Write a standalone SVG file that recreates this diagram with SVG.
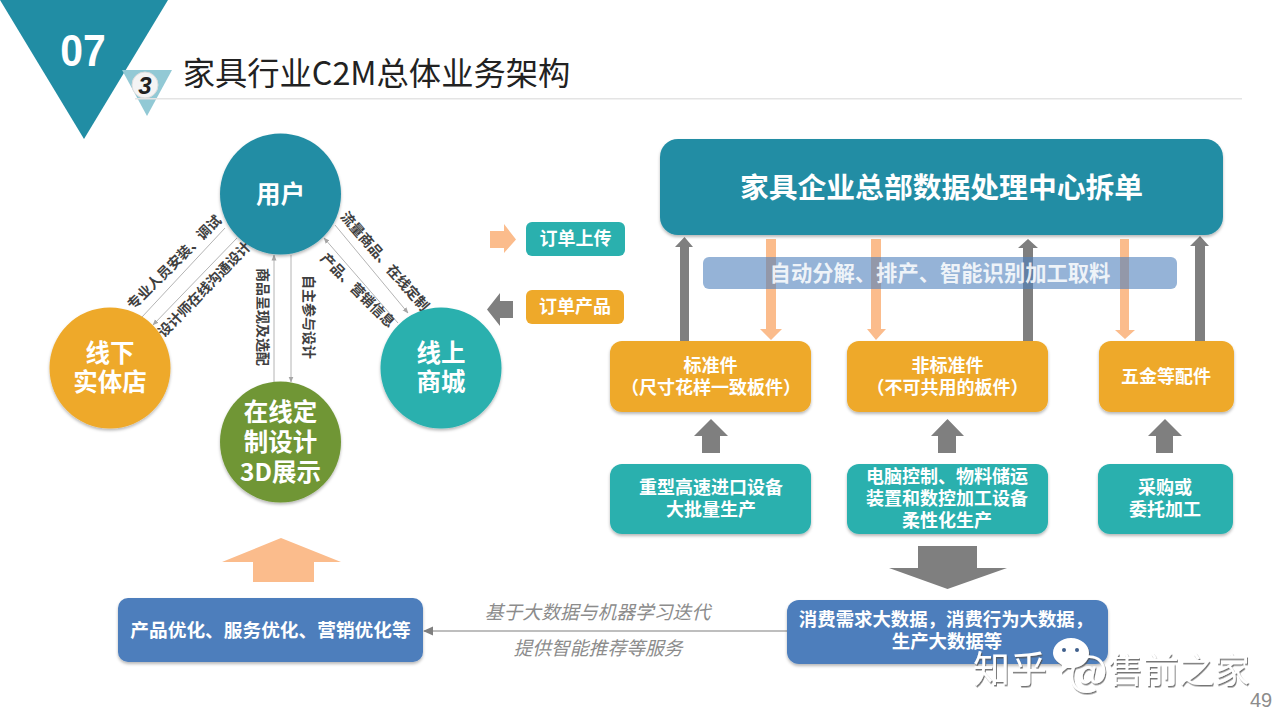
<svg xmlns="http://www.w3.org/2000/svg" width="1280" height="720" viewBox="0 0 1280 720">
<style>
text{font-family:"Noto Sans CJK SC","Liberation Sans",sans-serif;text-anchor:middle;dominant-baseline:central}
.w{fill:#fff;font-weight:700}
.s18{font-size:18px}
.c24{font-size:24.5px}
.lab{font-size:14px;font-weight:700;fill:#404040}
.it{font-size:18.800px;fill:#8c8c8c;font-style:italic}
.teal{fill:#2AB0AE}.dark{fill:#218DA4}.org{fill:#EEA92A}.blu{fill:#4D7EBC}
.gr{fill:#7F7F7F}.pe{fill:#FBBC8C}
.thin{stroke:#ABABAB;stroke-width:.9;fill:none}
.sh{filter:url(#sh)}
</style>
<defs>
<filter id="sh" x="-10%" y="-10%" width="120%" height="125%"><feDropShadow dx="0" dy="2" stdDeviation="1.8" flood-color="#000" flood-opacity=".28"/></filter>
<filter id="wm" x="-5%" y="-10%" width="110%" height="125%"><feDropShadow dx="1" dy="1.5" stdDeviation=".6" flood-color="#555" flood-opacity=".8"/></filter>
<marker id="ah" viewBox="0 0 6 6" refX="5.500" refY="3" markerWidth="6" markerHeight="6" orient="auto-start-reverse" markerUnits="userSpaceOnUse"><path d="M0 0.500L6 3L0 5.500z" fill="#A6A6A6"/></marker>
<marker id="ah2" viewBox="0 0 10 10" refX="9" refY="5" markerWidth="10" markerHeight="10" orient="auto-start-reverse" markerUnits="userSpaceOnUse"><path d="M0 0.500L10 5L0 9.500z" fill="#7F7F7F"/></marker>
</defs>
<rect width="1280" height="720" fill="#fff"/>

<g id="header">
<polygon points="0,0 168,0 84,139" class="dark"/>
<polygon points="122,70 172,70 147,116" fill="#92C9D5"/>
<circle cx="145" cy="85" r="13" fill="#f4f4f4" stroke="#ddd"/>
<text x="145" y="85" style="font-family:'Liberation Sans',sans-serif;font-size:24px;font-weight:700;font-style:italic" fill="#222">3</text>
<text transform="translate(83 51) scale(.93 1)" style="font-family:'Liberation Sans',sans-serif;font-size:44px;font-weight:700" fill="#fff">07</text>
<rect x="135" y="98" width="1107" height="1.5" fill="#E4E4E4"/>
<text x="376.500" y="71" style="font-size:32.300px" fill="#222">家具行业C2M总体业务架构</text>
</g>

<g id="connectors">
<path class="thin" d="M225 228L142 317"/>
<path class="thin" d="M237 238L153 325" marker-end="url(#ah)"/>
<path class="thin" d="M274 382V255" marker-end="url(#ah)"/>
<path class="thin" d="M291 255V382" marker-end="url(#ah)"/>
<path class="thin" d="M335 225L408 313" marker-end="url(#ah)"/>
<path class="thin" d="M398 323L324 238" marker-end="url(#ah)"/>
<path d="M787 631H424" stroke="#7F7F7F" stroke-width="1.2" fill="none" marker-end="url(#ah2)"/>
<polygon class="pe" points="490,231 504,231 504,224 516,239.500 504,253 504,248 490,248"/>
<polygon class="gr" points="513,301 500,301 500,293 487,309.500 500,326 500,318 513,318"/>
<polygon class="gr" points="680,341 680,247 675,247 684.500,237 693,247 689,247 689,341"/>
<polygon class="pe" points="766,239 776,239 776,329 782,329 771,340 760,329 766,329"/>
<polygon class="pe" points="871,239 881,239 881,329 886,329 876,340 867,329 871,329"/>
<polygon class="gr" points="1023,341 1023,248 1018,248 1028,239 1038,248 1033,248 1033,341"/>
<polygon class="pe" points="1120,239 1129,239 1129,330 1135,330 1125,339 1115,330 1120,330"/>
<polygon class="gr" points="1195,341 1195,246 1190,246 1200,236 1209,246 1205,246 1205,341"/>
<polygon class="gr" points="702,453 702,436 694,436 711,419 728,436 720,436 720,453"/>
<polygon class="gr" points="938,453 938,436 931,436 947.500,419 964,436 956,436 956,453"/>
<polygon class="gr" points="1156,453 1156,436 1148,436 1165,419 1182,436 1173,436 1173,453"/>
<polygon class="gr" points="918,546 977,546 977,568 1007,568 947.500,589 889,568 918,568"/>
<polygon class="pe" points="253,582 253,562 222,562 281,538 341,562 314,562 314,582"/>
</g>

<g id="edge-labels">
<text class="lab" dy="-2" transform="translate(175 263) rotate(-45)">专业人员安装、调试</text>
<text class="lab" dy="-2" transform="translate(205 290) rotate(-46)">设计师在线沟通设计</text>
<text class="lab" dy="-2" transform="translate(262 317) rotate(90)">商品呈现及选配</text>
<text class="lab" dy="-2" transform="translate(308 317) rotate(90)">自主参与设计</text>
<text class="lab" dy="-2" transform="translate(384 262) rotate(49)">流量商品、在线定制</text>
<text class="lab" dy="-2" transform="translate(357 291) rotate(45)">产品、营销信息</text>
<text class="it" x="597.500" y="610">基于大数据与机器学习迭代</text>
<text class="it" x="598" y="646">提供智能推荐等服务</text>
</g>

<g id="node-user"><circle class="dark sh" cx="280.500" cy="194" r="60.500"/><text class="w c24" x="280.500" y="192">用户</text></g>
<g id="node-offline"><circle class="org sh" cx="110" cy="368" r="60.500"/><text class="w c24" x="110" y="351">线下</text><text class="w c24" x="110" y="380">实体店</text></g>
<g id="node-design"><circle class="sh" fill="#6F9635" cx="280.500" cy="442" r="60.500"/><text class="w c24" x="280.500" y="410">在线定</text><text class="w c24" x="280.500" y="440">制设计</text><text class="w c24" x="280.500" y="470">3D展示</text></g>
<g id="node-online"><circle class="teal sh" cx="441" cy="368" r="60.500"/><text class="w c24" x="441" y="351">线上</text><text class="w c24" x="441" y="380">商城</text></g>

<g id="node-upload"><rect class="teal" x="526" y="222" width="99" height="34" rx="6"/><text class="w s18" x="575.500" y="237">订单上传</text></g>
<g id="node-product"><rect class="org" x="526" y="290" width="98" height="34" rx="6"/><text class="w s18" x="575" y="305">订单产品</text></g>

<g id="node-center"><rect class="dark sh" x="660" y="139" width="563" height="96" rx="18"/><text class="w" style="font-size:28.800px" x="941.500" y="185">家具企业总部数据处理中心拆单</text></g>
<g id="node-band"><rect x="703" y="257" width="474" height="32" rx="6" fill="#4F81BD" fill-opacity=".6"/><text class="w" style="font-size:21.300px" fill-opacity=".85" x="940" y="271">自动分解、排产、智能识别加工取料</text></g>

<g id="node-std"><rect class="org sh" x="610" y="341" width="201" height="71" rx="12"/><text class="w s18" x="710.500" y="364">标准件</text><text class="w s18" x="711" y="386">（尺寸花样一致板件）</text></g>
<g id="node-nonstd"><rect class="org sh" x="847" y="341" width="201" height="71" rx="12"/><text class="w s18" x="947.500" y="364">非标准件</text><text class="w s18" x="947.500" y="386">（不可共用的板件）</text></g>
<g id="node-hardware"><rect class="org sh" x="1099" y="341" width="135" height="71" rx="12"/><text class="w s18" x="1166" y="375">五金等配件</text></g>

<g id="node-heavy"><rect class="teal sh" x="610" y="464" width="201" height="70" rx="12"/><text class="w s18" x="711" y="486">重型高速进口设备</text><text class="w s18" x="711" y="508">大批量生产</text></g>
<g id="node-flex"><rect class="teal sh" x="847" y="464" width="201" height="70" rx="12"/><text class="w s18" x="947" y="475">电脑控制、物料储运</text><text class="w s18" x="947" y="497">装置和数控加工设备</text><text class="w s18" x="947" y="519">柔性化生产</text></g>
<g id="node-purchase"><rect class="teal sh" x="1098" y="464" width="135" height="70" rx="12"/><text class="w s18" x="1165" y="486">采购或</text><text class="w s18" x="1165" y="508">委托加工</text></g>

<g id="node-bigdata"><rect class="blu sh" x="787" y="600" width="321" height="64" rx="12"/><text class="w" style="font-size:18.400px" x="946" y="618">消费需求大数据，消费行为大数据，</text><text class="w" style="font-size:18.400px" x="947" y="640">生产大数据等</text></g>
<g id="node-optimize"><rect class="blu sh" x="118" y="598" width="305" height="64" rx="10"/><text class="w" style="font-size:18.700px" x="270.500" y="628">产品优化、服务优化、营销优化等</text></g>

<g id="watermark" filter="url(#wm)">
<text x="1010" y="667" style="font-size:37px" fill="#fff">知乎</text>
<path d="M1071 638c10 0 18 7 18 15 0 9-8 15-18 15-1 0-3 0-4 0l-6 5 1-8c-5-3-9-7-9-12 0-8 8-15 18-15z" fill="#fff"/>
<text x="1068" y="667" style="font-size:35.500px;text-anchor:start" fill="#fff"><tspan style="font-size:42px">@</tspan>售前之家</text>
</g>
<circle cx="1064" cy="650" r="2" fill="#3F5F8C"/><circle cx="1077" cy="650" r="2" fill="#3F5F8C"/>

<text x="1261" y="700" style="font-family:'Liberation Sans',sans-serif;font-size:20px" fill="#8c8c8c">49</text>
</svg>
